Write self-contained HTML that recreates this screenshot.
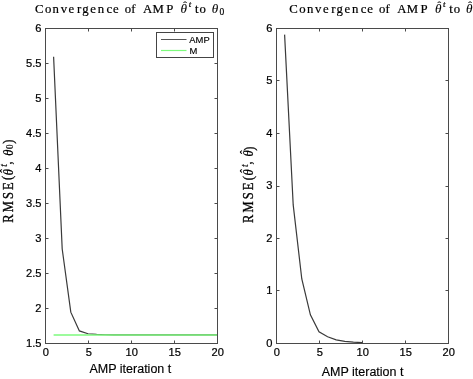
<!DOCTYPE html>
<html><head><meta charset="utf-8"><title>AMP convergence</title><style>
html,body{margin:0;padding:0;background:#fff;overflow:hidden;}
svg{display:block;}
text{fill:#000;}
.tk{font-family:"Liberation Sans",Arial,sans-serif;font-size:10.4px;stroke:#000;stroke-width:0.2px;}
.lg{font-family:"Liberation Sans",Arial,sans-serif;font-size:9.7px;stroke:#000;stroke-width:0.15px;}
.xl{font-family:"Liberation Sans",Arial,sans-serif;font-size:12.5px;stroke:#000;stroke-width:0.15px;}
.tt{font-family:"Liberation Serif","Times New Roman",serif;font-size:13.3px;stroke:#000;stroke-width:0.22px;}
.th{font-family:"Liberation Serif","Times New Roman",serif;font-size:13.2px;font-style:italic;stroke:#000;stroke-width:0.08px;}
.tsup{font-family:"Liberation Serif","Times New Roman",serif;font-size:9px;font-style:italic;stroke:#000;stroke-width:0.2px;}
.tsub{font-family:"Liberation Serif","Times New Roman",serif;font-size:9.5px;stroke:#000;stroke-width:0.15px;}
.hat{font-family:"Liberation Serif","Times New Roman",serif;font-size:11px;stroke:#000;stroke-width:0.15px;}
.yt{font-family:"Liberation Serif","Times New Roman",serif;font-size:12.5px;stroke:#000;stroke-width:0.3px;}
.yth{font-family:"Liberation Serif","Times New Roman",serif;font-size:12.5px;font-style:italic;stroke:#000;stroke-width:0.2px;}
.yhat{font-family:"Liberation Serif","Times New Roman",serif;font-size:11px;stroke:#000;stroke-width:0.15px;}
.ysup{font-family:"Liberation Serif","Times New Roman",serif;font-size:9.5px;font-style:italic;stroke:#000;stroke-width:0.2px;}
.ysub{font-family:"Liberation Serif","Times New Roman",serif;font-size:9.2px;stroke:#000;stroke-width:0.15px;}
</style></head><body>
<svg width="473" height="379" viewBox="0 0 473 379">
<rect width="473" height="379" fill="#fff"/>
<polyline points="53.60,56.70 62.20,248.99 70.80,312.20 79.40,330.89 88.00,333.76 96.60,334.46 105.20,334.74 113.80,334.81 122.40,334.88 131.00,334.88 139.60,334.88 148.20,334.88 156.80,334.88 165.40,334.88 174.00,334.88 182.60,334.88 191.20,334.88 199.80,334.88 208.40,334.88 217.00,334.88" fill="none" stroke="#3a3a3a" stroke-width="1.2" stroke-linejoin="miter"/>
<polyline points="53.60,334.88 62.20,334.88 70.80,334.88 79.40,334.88 88.00,334.88 96.60,334.88 105.20,334.88 113.80,334.88 122.40,334.88 131.00,334.88 139.60,334.88 148.20,334.88 156.80,334.88 165.40,334.88 174.00,334.88 182.60,334.88 191.20,334.88 199.80,334.88 208.40,334.88 217.00,334.88" fill="none" stroke="#7dfa7d" stroke-width="1.5" stroke-linejoin="miter"/>
<polyline points="284.60,34.62 293.20,204.93 301.80,278.95 310.40,314.81 319.00,331.82 327.60,336.70 336.20,339.85 344.80,341.43 353.40,342.21 362.00,342.63" fill="none" stroke="#3a3a3a" stroke-width="1.2" stroke-linejoin="miter"/>
<rect x="45.5" y="28.5" width="172" height="315" fill="none" stroke="#4a4a4a" stroke-width="1"/>
<line x1="45.5" y1="343.5" x2="45.5" y2="340.5" stroke="#4a4a4a"/>
<line x1="45.5" y1="28.5" x2="45.5" y2="31.5" stroke="#4a4a4a"/>
<line x1="88.5" y1="343.5" x2="88.5" y2="340.5" stroke="#4a4a4a"/>
<line x1="88.5" y1="28.5" x2="88.5" y2="31.5" stroke="#4a4a4a"/>
<line x1="131.5" y1="343.5" x2="131.5" y2="340.5" stroke="#4a4a4a"/>
<line x1="131.5" y1="28.5" x2="131.5" y2="31.5" stroke="#4a4a4a"/>
<line x1="174.5" y1="343.5" x2="174.5" y2="340.5" stroke="#4a4a4a"/>
<line x1="174.5" y1="28.5" x2="174.5" y2="31.5" stroke="#4a4a4a"/>
<line x1="217.5" y1="343.5" x2="217.5" y2="340.5" stroke="#4a4a4a"/>
<line x1="217.5" y1="28.5" x2="217.5" y2="31.5" stroke="#4a4a4a"/>
<line x1="45.5" y1="343.5" x2="48.5" y2="343.5" stroke="#4a4a4a"/>
<line x1="217.5" y1="343.5" x2="214.5" y2="343.5" stroke="#4a4a4a"/>
<line x1="45.5" y1="308.5" x2="48.5" y2="308.5" stroke="#4a4a4a"/>
<line x1="217.5" y1="308.5" x2="214.5" y2="308.5" stroke="#4a4a4a"/>
<line x1="45.5" y1="273.5" x2="48.5" y2="273.5" stroke="#4a4a4a"/>
<line x1="217.5" y1="273.5" x2="214.5" y2="273.5" stroke="#4a4a4a"/>
<line x1="45.5" y1="238.5" x2="48.5" y2="238.5" stroke="#4a4a4a"/>
<line x1="217.5" y1="238.5" x2="214.5" y2="238.5" stroke="#4a4a4a"/>
<line x1="45.5" y1="203.5" x2="48.5" y2="203.5" stroke="#4a4a4a"/>
<line x1="217.5" y1="203.5" x2="214.5" y2="203.5" stroke="#4a4a4a"/>
<line x1="45.5" y1="168.5" x2="48.5" y2="168.5" stroke="#4a4a4a"/>
<line x1="217.5" y1="168.5" x2="214.5" y2="168.5" stroke="#4a4a4a"/>
<line x1="45.5" y1="133.5" x2="48.5" y2="133.5" stroke="#4a4a4a"/>
<line x1="217.5" y1="133.5" x2="214.5" y2="133.5" stroke="#4a4a4a"/>
<line x1="45.5" y1="98.5" x2="48.5" y2="98.5" stroke="#4a4a4a"/>
<line x1="217.5" y1="98.5" x2="214.5" y2="98.5" stroke="#4a4a4a"/>
<line x1="45.5" y1="63.5" x2="48.5" y2="63.5" stroke="#4a4a4a"/>
<line x1="217.5" y1="63.5" x2="214.5" y2="63.5" stroke="#4a4a4a"/>
<line x1="45.5" y1="28.5" x2="48.5" y2="28.5" stroke="#4a4a4a"/>
<line x1="217.5" y1="28.5" x2="214.5" y2="28.5" stroke="#4a4a4a"/>
<rect x="276.5" y="28.5" width="172" height="315" fill="none" stroke="#4a4a4a" stroke-width="1"/>
<line x1="276.5" y1="343.5" x2="276.5" y2="340.5" stroke="#4a4a4a"/>
<line x1="276.5" y1="28.5" x2="276.5" y2="31.5" stroke="#4a4a4a"/>
<line x1="319.5" y1="343.5" x2="319.5" y2="340.5" stroke="#4a4a4a"/>
<line x1="319.5" y1="28.5" x2="319.5" y2="31.5" stroke="#4a4a4a"/>
<line x1="362.5" y1="343.5" x2="362.5" y2="340.5" stroke="#4a4a4a"/>
<line x1="362.5" y1="28.5" x2="362.5" y2="31.5" stroke="#4a4a4a"/>
<line x1="405.5" y1="343.5" x2="405.5" y2="340.5" stroke="#4a4a4a"/>
<line x1="405.5" y1="28.5" x2="405.5" y2="31.5" stroke="#4a4a4a"/>
<line x1="448.5" y1="343.5" x2="448.5" y2="340.5" stroke="#4a4a4a"/>
<line x1="448.5" y1="28.5" x2="448.5" y2="31.5" stroke="#4a4a4a"/>
<line x1="276.5" y1="343.5" x2="279.5" y2="343.5" stroke="#4a4a4a"/>
<line x1="448.5" y1="343.5" x2="445.5" y2="343.5" stroke="#4a4a4a"/>
<line x1="276.5" y1="290.5" x2="279.5" y2="290.5" stroke="#4a4a4a"/>
<line x1="448.5" y1="290.5" x2="445.5" y2="290.5" stroke="#4a4a4a"/>
<line x1="276.5" y1="238.5" x2="279.5" y2="238.5" stroke="#4a4a4a"/>
<line x1="448.5" y1="238.5" x2="445.5" y2="238.5" stroke="#4a4a4a"/>
<line x1="276.5" y1="186.5" x2="279.5" y2="186.5" stroke="#4a4a4a"/>
<line x1="448.5" y1="186.5" x2="445.5" y2="186.5" stroke="#4a4a4a"/>
<line x1="276.5" y1="133.5" x2="279.5" y2="133.5" stroke="#4a4a4a"/>
<line x1="448.5" y1="133.5" x2="445.5" y2="133.5" stroke="#4a4a4a"/>
<line x1="276.5" y1="80.5" x2="279.5" y2="80.5" stroke="#4a4a4a"/>
<line x1="448.5" y1="80.5" x2="445.5" y2="80.5" stroke="#4a4a4a"/>
<line x1="276.5" y1="28.5" x2="279.5" y2="28.5" stroke="#4a4a4a"/>
<line x1="448.5" y1="28.5" x2="445.5" y2="28.5" stroke="#4a4a4a"/>
<text transform="translate(45.80,355.50) scale(1.070,1)" text-anchor="middle" class="tk">0</text>
<text transform="translate(88.80,355.50) scale(1.070,1)" text-anchor="middle" class="tk">5</text>
<text transform="translate(131.80,355.50) scale(1.070,1)" text-anchor="middle" class="tk">10</text>
<text transform="translate(174.80,355.50) scale(1.070,1)" text-anchor="middle" class="tk">15</text>
<text transform="translate(217.80,355.50) scale(1.070,1)" text-anchor="middle" class="tk">20</text>
<text transform="translate(41.50,346.50) scale(1.070,1)" text-anchor="end" class="tk">1.5</text>
<text transform="translate(41.50,311.50) scale(1.070,1)" text-anchor="end" class="tk">2</text>
<text transform="translate(41.50,276.50) scale(1.070,1)" text-anchor="end" class="tk">2.5</text>
<text transform="translate(41.50,241.50) scale(1.070,1)" text-anchor="end" class="tk">3</text>
<text transform="translate(41.50,206.50) scale(1.070,1)" text-anchor="end" class="tk">3.5</text>
<text transform="translate(41.50,171.50) scale(1.070,1)" text-anchor="end" class="tk">4</text>
<text transform="translate(41.50,136.50) scale(1.070,1)" text-anchor="end" class="tk">4.5</text>
<text transform="translate(41.50,101.50) scale(1.070,1)" text-anchor="end" class="tk">5</text>
<text transform="translate(41.50,66.50) scale(1.070,1)" text-anchor="end" class="tk">5.5</text>
<text transform="translate(41.50,31.50) scale(1.070,1)" text-anchor="end" class="tk">6</text>
<text transform="translate(276.80,355.50) scale(1.070,1)" text-anchor="middle" class="tk">0</text>
<text transform="translate(319.80,355.50) scale(1.070,1)" text-anchor="middle" class="tk">5</text>
<text transform="translate(362.80,355.50) scale(1.070,1)" text-anchor="middle" class="tk">10</text>
<text transform="translate(405.80,355.50) scale(1.070,1)" text-anchor="middle" class="tk">15</text>
<text transform="translate(448.80,355.50) scale(1.070,1)" text-anchor="middle" class="tk">20</text>
<text transform="translate(272.50,346.50) scale(1.070,1)" text-anchor="end" class="tk">0</text>
<text transform="translate(272.50,294.00) scale(1.070,1)" text-anchor="end" class="tk">1</text>
<text transform="translate(272.50,241.50) scale(1.070,1)" text-anchor="end" class="tk">2</text>
<text transform="translate(272.50,189.00) scale(1.070,1)" text-anchor="end" class="tk">3</text>
<text transform="translate(272.50,136.50) scale(1.070,1)" text-anchor="end" class="tk">4</text>
<text transform="translate(272.50,84.00) scale(1.070,1)" text-anchor="end" class="tk">5</text>
<text transform="translate(272.50,31.50) scale(1.070,1)" text-anchor="end" class="tk">6</text>
<rect x="156.5" y="32.5" width="57" height="25" fill="#fff" stroke="#444" stroke-width="1"/>
<line x1="161" y1="39.5" x2="186.5" y2="39.5" stroke="#555"/>
<line x1="161" y1="50.5" x2="186.5" y2="50.5" stroke="#7dfa7d" stroke-width="1.2"/>
<text transform="translate(189.3,43.1) scale(0.97,1)" class="lg">AMP</text>
<text transform="translate(189.5,54.2) scale(0.97,1)" class="lg">M</text>
<text transform="translate(0,13.40) scale(0.960,1)" class="tt" x="36.43 46.79 54.80 63.33 71.46 80.15 85.68 93.96 101.88 110.95 117.71">Convergence</text>
<text transform="translate(0,13.40) scale(0.960,1)" class="tt" x="129.91 136.78">of</text>
<text transform="translate(0,13.40) scale(0.960,1)" class="tt" x="148.93 158.78 173.16">AMP</text>
<text x="180.6" y="13.4" class="th">θ</text>
<text x="188.8" y="7.0" class="tsup">t</text>
<text transform="translate(0,13.40) scale(0.960,1)" class="tt" x="203.10 207.83">to</text>
<text x="211.8" y="13.4" class="th">θ</text>
<text x="183.2" y="8.7" class="hat">ˆ</text>
<text x="219.4" y="15.2" class="tsub">0</text>
<text transform="translate(0,13.40) scale(0.960,1)" class="tt" x="301.33 311.68 319.69 328.23 336.36 345.05 350.57 358.86 366.78 375.85 382.61">Convergence</text>
<text transform="translate(0,13.40) scale(0.960,1)" class="tt" x="394.81 401.67">of</text>
<text transform="translate(0,13.40) scale(0.960,1)" class="tt" x="413.83 423.68 438.05">AMP</text>
<text x="434.9" y="13.4" class="th">θ</text>
<text x="443.1" y="7.0" class="tsup">t</text>
<text transform="translate(0,13.40) scale(0.960,1)" class="tt" x="468.00 472.72">to</text>
<text x="466.1" y="13.4" class="th">θ</text>
<text x="437.5" y="8.7" class="hat">ˆ</text>
<text x="468.3" y="8.7" class="hat">ˆ</text>
<text transform="translate(89.50,373.00) scale(1.000,1)" class="xl">AMP iteration t</text>
<text transform="translate(321.70,375.90) scale(1.000,1)" class="xl">AMP iteration t</text>
<g transform="translate(12.70,222.80) scale(1.090,1) rotate(-90)">
<text x="0" y="0" class="yt" textLength="40.5" lengthAdjust="spacing">RMSE</text>
<text x="42.8" y="-0.4" class="yt">(</text>
<text x="47.6" y="0" class="yth">θ</text>
<text x="50.1" y="-3.4" class="yhat">ˆ</text>
<text x="56.1" y="-4.8" class="ysup">t</text>
<text x="58.2" y="-0.8" class="yt">,</text>
<text x="67.0" y="0" class="yth">θ</text>
<text x="73.7" y="0.6" class="ysub">0</text>
<text x="79.0" y="0.4" class="yt">)</text>
</g>
<g transform="translate(253.20,223.10) scale(1.090,1) rotate(-90)">
<text x="0" y="0" class="yt" textLength="40.6" lengthAdjust="spacing">RMSE</text>
<text x="42.8" y="-0.4" class="yt">(</text>
<text x="47.5" y="0" class="yth">θ</text>
<text x="50.3" y="-3.8" class="yhat">ˆ</text>
<text x="56.1" y="-5.0" class="ysup">t</text>
<text x="58.6" y="-0.8" class="yt">,</text>
<text x="66.7" y="0" class="yth">θ</text>
<text x="69.2" y="-3.8" class="yhat">ˆ</text>
<text x="72.3" y="0.4" class="yt">)</text>
</g>
</svg>
</body></html>
